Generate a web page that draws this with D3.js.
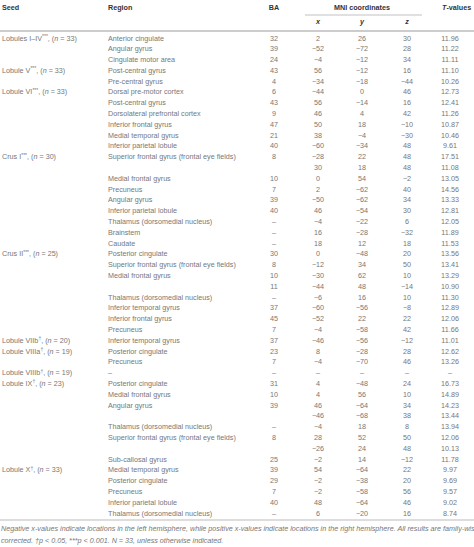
<!DOCTYPE html>
<html>
<head>
<meta charset="utf-8">
<script src="https://cdn.jsdelivr.net/npm/d3@7"></script>
<style>
  body { margin: 0; background: #fff; }
  text { font-family: "Liberation Sans", Arial, sans-serif; }
</style>
</head>
<body>
<svg id="chart" width="474" height="547"></svg>
<script>
'use strict';

// seed label per row: [name, superscript, n] or null
const seeds = [
  ['Lobules I–IV', '***', 33], null, null,
  ['Lobule V', '***', 33], null,
  ['Lobule VI', '***', 33], null, null, null, null, null,
  ['Crus I', '***', 30], null, null, null, null, null, null, null, null,
  ['Crus II', '***', 25], null, null, null, null, null, null, null,
  ['Lobule VIIb', '†', 20],
  ['Lobule VIIIa', '†', 19], null,
  ['Lobule VIIIb', '†', 19],
  ['Lobule IX', '†', 23], null, null, null, null, null, null, null,
  ['Lobule X', '†', 33], null, null, null, null
];

const regions = [
  'Anterior cingulate', 'Angular gyrus', 'Cingulate motor area',
  'Post-central gyrus', 'Pre-central gyrus',
  'Dorsal pre-motor cortex', 'Post-central gyrus', 'Dorsolateral prefrontal cortex',
  'Inferior frontal gyrus', 'Medial temporal gyrus', 'Inferior parietal lobule',
  'Superior frontal gyrus (frontal eye fields)', '', 'Medial frontal gyrus', 'Precuneus',
  'Angular gyrus', 'Inferior parietal lobule', 'Thalamus (dorsomedial nucleus)',
  'Brainstem', 'Caudate',
  'Posterior cingulate', 'Superior frontal gyrus (frontal eye fields)', 'Medial frontal gyrus',
  '', 'Thalamus (dorsomedial nucleus)', 'Inferior temporal gyrus', 'Inferior frontal gyrus',
  'Precuneus',
  'Inferior temporal gyrus', 'Posterior cingulate', 'Precuneus', '–',
  'Posterior cingulate', 'Medial frontal gyrus', 'Angular gyrus', '',
  'Thalamus (dorsomedial nucleus)', 'Superior frontal gyrus (frontal eye fields)', '',
  'Sub-callosal gyrus',
  'Medial temporal gyrus', 'Posterior cingulate', 'Precuneus', 'Inferior parietal lobule',
  'Thalamus (dorsomedial nucleus)'
];

const ba = ['32', '39', '24', '43', '4', '6', '43', '9', '47', '21', '40', '8', '', '10', '7',
  '39', '40', '–', '–', '–', '30', '8', '10', '11', '–', '37', '45', '7', '37', '23', '7', '–',
  '31', '10', '39', '', '–', '8', '', '25', '39', '29', '7', '40', '–'];

const xs = ['2', '−52', '−4', '56', '−34', '−44', '56', '46', '50', '38', '−60', '−28', '30', '0', '2',
  '−50', '46', '−4', '16', '18', '0', '−12', '−30', '−44', '−6', '−60', '−52', '−4', '−46', '8', '−4', '–',
  '4', '4', '46', '−46', '−4', '28', '−26', '−2', '54', '−2', '−2', '48', '6'];

const ys = ['26', '−72', '−12', '−12', '−18', '0', '−14', '4', '18', '−4', '−34', '22', '18', '54', '−62',
  '−62', '−54', '−22', '−28', '12', '−48', '34', '62', '48', '16', '−56', '22', '−58', '−56', '−28', '−70', '–',
  '−48', '56', '−64', '−68', '18', '52', '24', '14', '−64', '−38', '−58', '−64', '−20'];

const zs = ['30', '28', '34', '16', '−44', '46', '16', '42', '−10', '−30', '48', '48', '48', '−2', '40',
  '34', '30', '6', '−32', '18', '20', '50', '10', '−14', '10', '−8', '22', '42', '−12', '28', '46', '–',
  '24', '10', '34', '38', '8', '50', '48', '−12', '22', '20', '56', '46', '16'];

const tValues = ['11.96', '11.22', '11.11', '11.10', '10.26', '12.73', '12.41', '11.26', '10.87', '10.46',
  '9.61', '17.51', '11.08', '13.05', '14.56', '13.33', '12.81', '12.05', '11.89', '11.53', '13.56',
  '13.41', '13.29', '10.90', '11.30', '12.89', '12.06', '11.66', '11.01', '12.62', '13.26', '–',
  '16.73', '14.89', '14.23', '13.44', '13.94', '12.06', '10.13', '11.78', '9.97', '9.69', '9.57',
  '9.02', '8.74'];

const footnotes = [
  'Negative x-values indicate locations in the left hemisphere, while positive x-values indicate locations in the right hemisphere. All results are family-wise error',
  'corrected. †p < 0.05, ***p < 0.001. N = 33, unless otherwise indicated.'
];

const svg = d3.select('#chart');
const textColor = '#777';
const headColor = '#333';
const fontSize = 7.2;

const rowIdx = d3.range(regions.length);
const y = d3.scalePoint().domain(rowIdx).range([38, 513]);
const numCols = ['ba', 'x', 'y', 'z', 't'];
const colX = d3.scaleOrdinal().domain(numCols).range([274, 318, 362, 407, 450]);

// header
const head = svg.append('g').attr('fill', headColor).attr('font-size', fontSize).attr('font-weight', 'bold');
head.append('text').attr('x', 2).attr('y', 10).text('Seed');
head.append('text').attr('x', 108).attr('y', 10).text('Region');
head.append('text').attr('x', colX('ba')).attr('y', 10).attr('text-anchor', 'middle').text('BA');
head.append('text').attr('x', colX('y')).attr('y', 10).attr('text-anchor', 'middle').text('MNI coordinates');
const tHead = head.append('text').attr('x', 442).attr('y', 10);
tHead.append('tspan').attr('font-style', 'italic').text('T');
tHead.append('tspan').text('-values');
['x', 'y', 'z'].forEach(c => {
  head.append('text').attr('x', colX(c)).attr('y', 24).attr('text-anchor', 'middle')
    .attr('font-style', 'italic').text(c);
});

svg.append('line').attr('x1', 305).attr('x2', 422).attr('y1', 15).attr('y2', 15)
  .attr('stroke', '#999').attr('stroke-width', 0.6);
svg.append('line').attr('x1', 0).attr('x2', 474).attr('y1', 31).attr('y2', 31)
  .attr('stroke', '#bbb').attr('stroke-width', 1.6);
svg.append('line').attr('x1', 0).attr('x2', 474).attr('y1', 520).attr('y2', 520)
  .attr('stroke', '#bbb').attr('stroke-width', 1);

// body
const body = svg.append('g').attr('fill', textColor).attr('font-size', fontSize);
const rows = body.selectAll('g.row').data(rowIdx).join('g')
  .attr('class', 'row')
  .attr('transform', i => `translate(0,${y(i) + 2.5})`);

rows.filter(i => seeds[i]).append('text').attr('x', 2)
  .each(function (i) {
    const [name, sup, n] = seeds[i];
    const t = d3.select(this);
    t.append('tspan').text(name);
    t.append('tspan').attr('font-size', fontSize * 0.7).attr('dy', -2.5).text(sup);
    t.append('tspan').attr('dy', 2.5).text(', (');
    t.append('tspan').attr('font-style', 'italic').text('n');
    t.append('tspan').text(` = ${n})`);
  });

rows.append('text').attr('x', 108).text(i => regions[i]);

const numData = { ba: ba, x: xs, y: ys, z: zs, t: tValues };
numCols.forEach(c => {
  rows.append('text').attr('x', colX(c)).attr('text-anchor', 'middle').text(i => numData[c][i]);
});

// footnotes
svg.append('g').attr('fill', textColor).attr('font-size', 7.2).attr('font-style', 'italic')
  .selectAll('text').data(footnotes).join('text')
  .attr('x', 1).attr('y', (d, i) => 531 + i * 12).text(d => d);
</script>
</body>
</html>
